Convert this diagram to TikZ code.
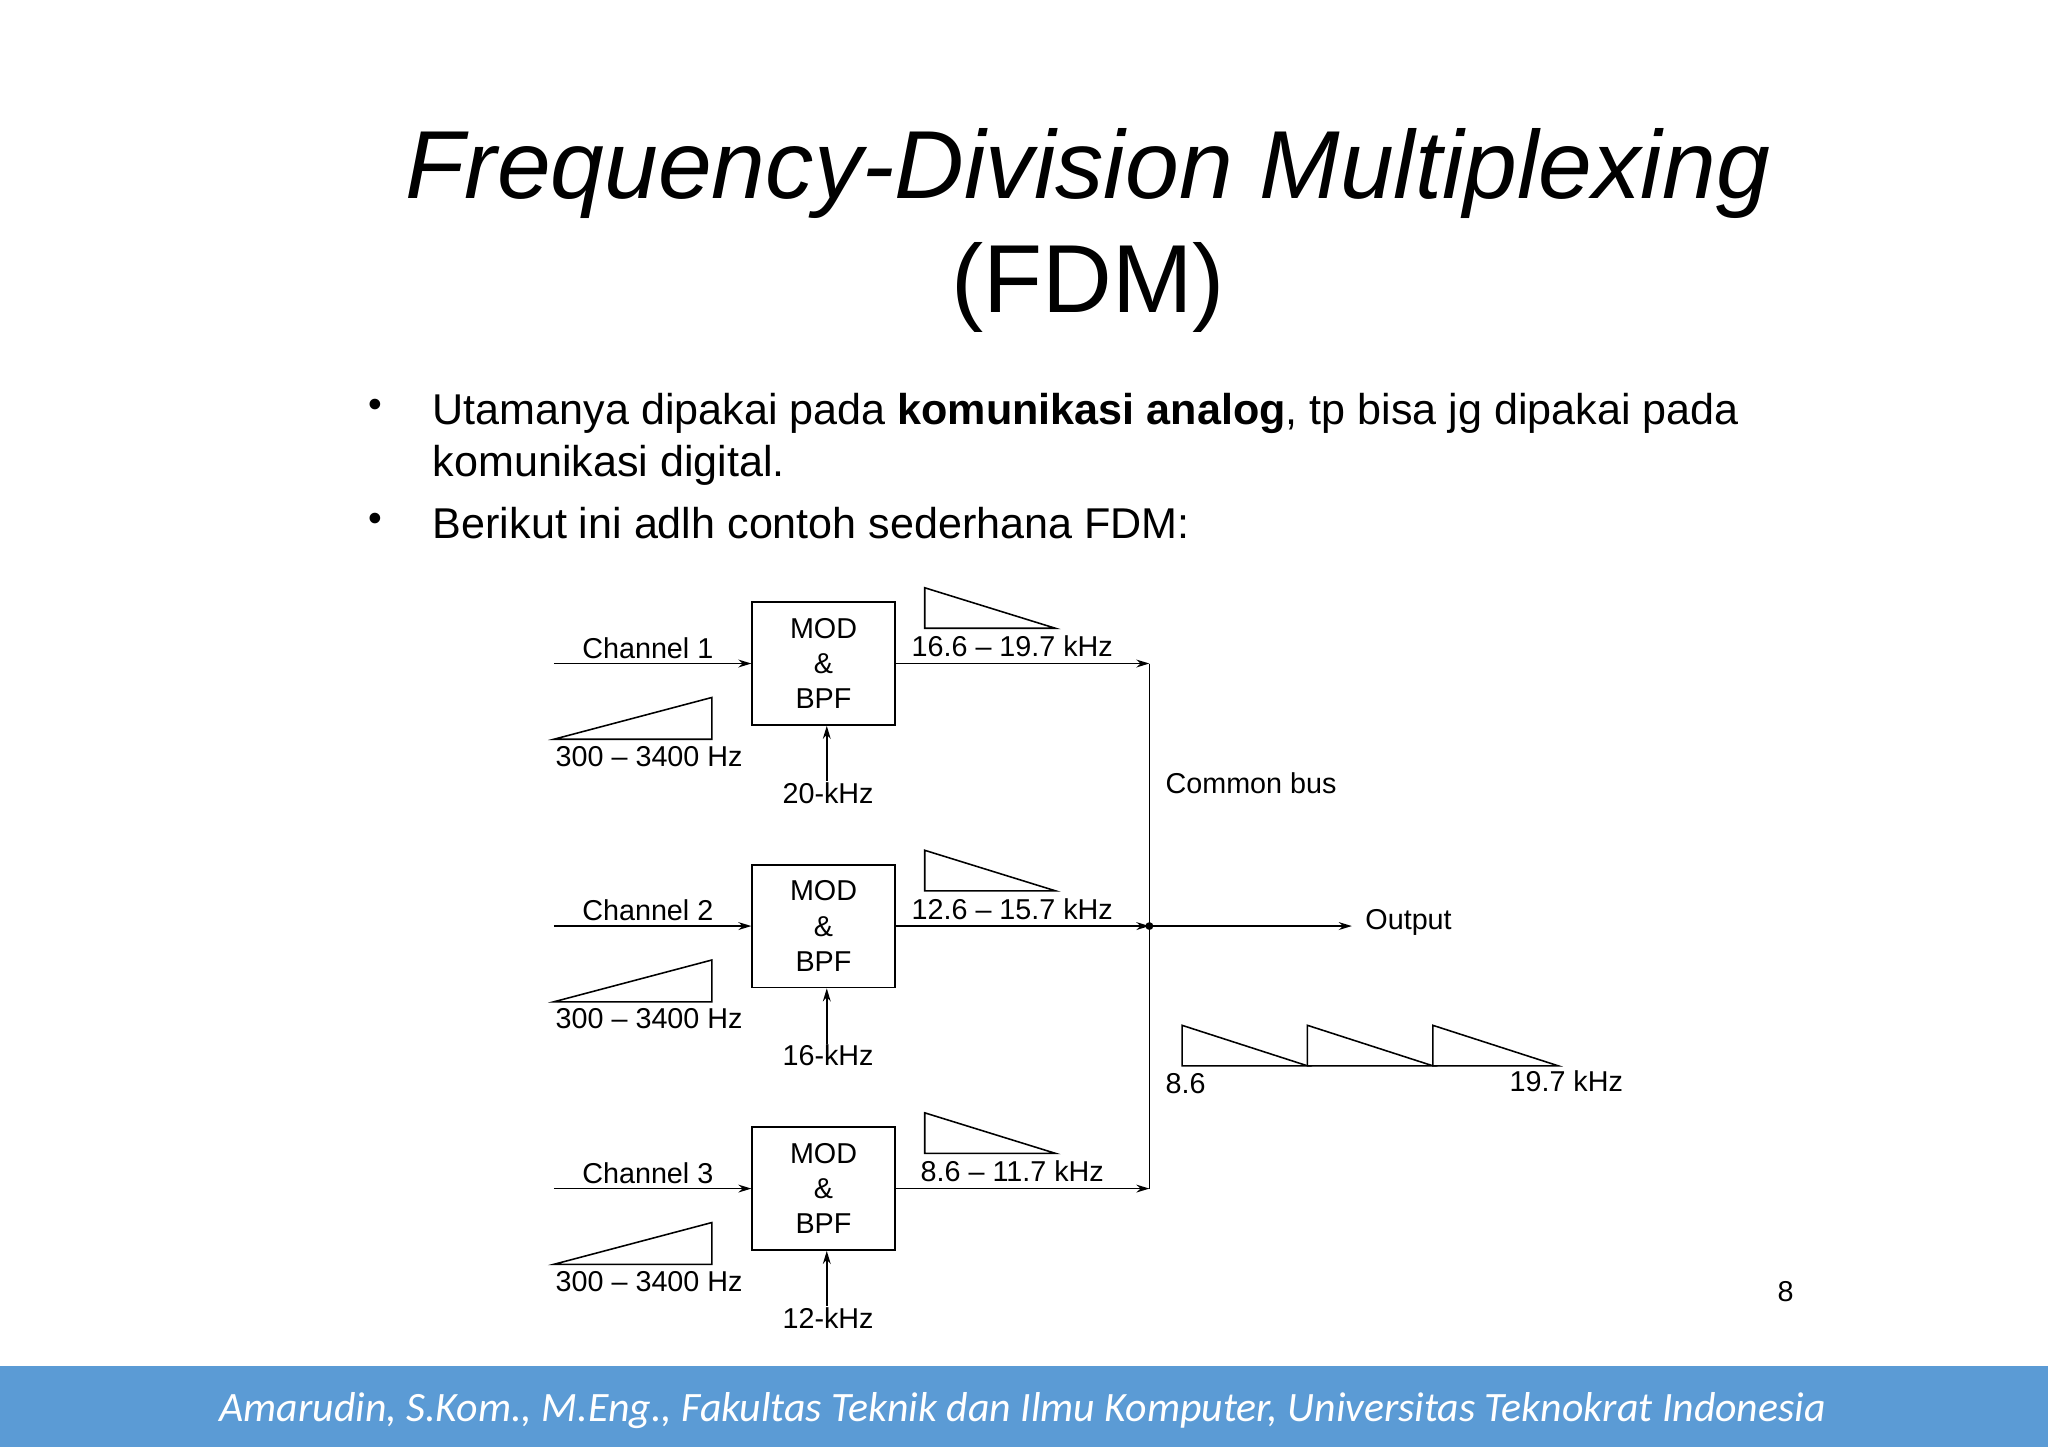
\documentclass[tikz,border=0pt]{standalone}
\usepackage{fontspec}
\setmainfont{Liberation Sans}
\newfontfamily\foot{Carlito}
\usetikzlibrary{arrows.meta}
\definecolor{band}{HTML}{5B9BD5}
\begin{document}
\begin{tikzpicture}[x=0.5pt,y=-0.5pt,
 lbl/.style={font=\fontsize{11}{13}\selectfont,inner sep=0},
 box/.style={draw,line width=0.7pt,minimum width=54.5pt,minimum height=47pt,align=center,font=\fontsize{11}{13.5}\selectfont,inner sep=0},
 ln/.style={line width=0.6pt},
 arr/.style={ln,-{Stealth[length=5pt,width=3pt]}},
 body/.style={font=\fontsize{16.5}{19}\selectfont,anchor=base west,inner sep=0}]
\useasboundingbox (0,0) rectangle (1568,1108);
\fill[band] (0,1046) rectangle (1568,1108);
\node[text=white,font=\foot\itshape\fontsize{16}{19}\selectfont] (ft) at (783,1080) {Amarudin, S.Kom., M.Eng., Fakultas Teknik dan Ilmu Komputer, Universitas Teknokrat Indonesia};
\node[font=\itshape\fontsize{37}{42}\selectfont] (t1) at (833,133) {Frequency-Division Multiplexing};
\node[font=\fontsize{37}{42}\selectfont] (t2) at (833,220) {(FDM)};
\node[font=\fontsize{15}{18}\selectfont] (b1) at (287,313) {•};
\node[body] (l1) at (331,325) {Utamanya dipakai pada \textbf{komunikasi analog}, tp bisa jg dipakai pada};
\node[body] (l2) at (331,365) {komunikasi digital.};
\node[font=\fontsize{15}{18}\selectfont] (b2) at (287,400) {•};
\node[body] (l3) at (331,412) {Berikut ini adlh contoh sederhana FDM:};
\node[font=\fontsize{11}{13}\selectfont] (pg) at (1367,989) {8};
\foreach \i/\y/\c/\r in {1/0/20/16.6 -- 19.7 kHz,2/201/16/12.6 -- 15.7 kHz,3/402/12/8.6 -- 11.7 kHz}{
 \node[box] (m\i) at (630.5,508+\y) {MOD\\\&\\BPF};
 \coordinate (in\i) at (424,508+\y);
 \draw[arr] (in\i) -- (m\i.west);
 \node[lbl] (ch\i) at (496,496+\y) {Channel \i};
 \draw[ln] (424,566+\y) -- (545,566+\y) -- (545,534+\y) -- cycle;
 \node[lbl] (f\i) at (497,579+\y) {300 -- 3400 Hz};
 \coordinate (c\i) at (633,598+\y);
 \draw[arr] (c\i) -- (m\i.south -| c\i);
 \node[lbl] (k\i) at (634,607+\y) {\c-kHz};
 \coordinate (o\i) at (880,508+\y);
 \draw[arr] (m\i.east) -- (o\i);
 \node[lbl] (r\i) at (775,495+\y) {\r};
 \draw[ln] (708,450+\y) -- (708,481+\y) -- (808,481+\y) -- cycle;
}
\draw[ln] (o1) -- (o3);
\coordinate (j) at (880,709);
\fill (j) circle (3);
\coordinate (out) at (1035,709);
\draw[arr] (j) -- (out);
\node[lbl,anchor=west] (ol) at (1045,706) {Output};
\node[lbl,anchor=west] (cb) at (892,600) {Common bus};
\foreach \x in {905,1001,1097}{
 \draw[ln] (\x,785) -- (\x,816) -- (\x+96,816) -- cycle;
}
\node[lbl,anchor=west] (s1) at (892,830) {8.6};
\node[lbl,anchor=east] (s2) at (1243,828) {19.7 kHz};
\end{tikzpicture}
\end{document}
